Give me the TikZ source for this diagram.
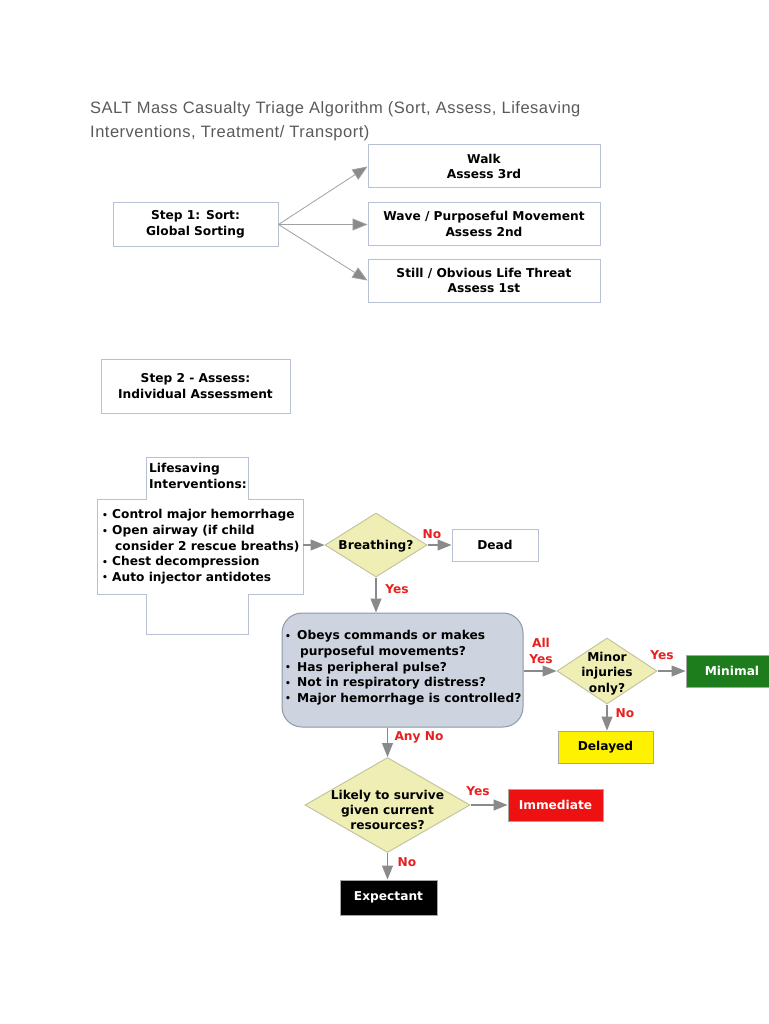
\documentclass[tikz,border=0pt]{standalone}
\usepackage{fontspec}
\setmainfont{DejaVu Sans}
\newfontfamily\titlefont[LetterSpace=3]{Liberation Sans}
\usetikzlibrary{shapes.geometric,arrows.meta}
\definecolor{bordr}{HTML}{B8C0D4}
\definecolor{arrowc}{HTML}{8A8A8A}
\definecolor{dfill}{HTML}{EFEFB5}
\definecolor{dline}{HTML}{C4C4A0}
\definecolor{rfill}{HTML}{CDD3DF}
\definecolor{rline}{HTML}{8F98A8}
\definecolor{lblred}{HTML}{E8201F}
\definecolor{mingreen}{HTML}{1D7D1D}
\definecolor{immred}{HTML}{EE1111}
\definecolor{titlegray}{HTML}{5A5A5A}
\newcommand\bul{\makebox[10pt][l]{\raisebox{0.5pt}{\scalebox{0.75}{•}}}}
\newcommand\bulw{\makebox[12pt][l]{\raisebox{0.5pt}{\scalebox{0.75}{•}}}}
\begin{document}
\begin{tikzpicture}[x=1pt,y=-1pt,
  txt/.style={font=\fontsize{12.2}{15.6}\selectfont\bfseries},
  sbox/.style={txt,draw=bordr,line width=1pt,fill=white,rectangle,inner sep=0,align=center},
  dec/.style={diamond,draw=dline,fill=dfill,line width=1pt,inner sep=0},
  lbl/.style={txt,text=lblred,inner sep=0,align=center},
  arr/.style={draw=arrowc,line width=1.1pt,-{Triangle[length=14pt,width=11pt]}},
  thinarr/.style={draw=arrowc!80,line width=0.8pt,-{Triangle[length=15pt,width=12pt,fill=arrowc]}},
  outc/.style={txt,rectangle,draw=gray!70,line width=1pt,inner sep=0,align=center}
]
\useasboundingbox (0,0) rectangle (768,1024);
\fill[white] (0,0) rectangle (768,1024);

% title
\node[anchor=base west,inner sep=0,text=titlegray,font=\titlefont\fontsize{16.5}{20}\selectfont] (title1) at (90,114) {SALT Mass Casualty Triage Algorithm (Sort, Assess, Lifesaving};
\node[anchor=base west,inner sep=0,text=titlegray,font=\titlefont\fontsize{16.5}{20}\selectfont] (title2) at (90,138) {Interventions, Treatment/ Transport)};

% step 1
\node[sbox,minimum width=165,minimum height=44] (s1) at (195.5,224.5) {Step 1: Sort:\\Global Sorting};
\node[sbox,minimum width=232,minimum height=43] (walk) at (484,166.5) {Walk\\Assess 3rd};
\node[sbox,minimum width=232,minimum height=43] (wave) at (484,224) {Wave / Purposeful Movement\\Assess 2nd};
\node[sbox,minimum width=232,minimum height=43] (still) at (484,280.5) {Still / Obvious Life Threat\\Assess 1st};
\draw[thinarr] (s1.east) -- (walk.west);
\draw[thinarr] (s1.east) -- (s1.east -| wave.west);
\draw[thinarr] (s1.east) -- (still.west);

% step 2
\node[sbox,minimum width=189,minimum height=54] (s2) at (195.5,386) {Step 2 - Assess:\\Individual Assessment};

% lifesaving cross
\draw[draw=bordr,line width=1pt,fill=white] (146,457) -- (248,457) -- (248,499) -- (303,499) -- (303,594) -- (248,594) -- (248,634) -- (146,634) -- (146,594) -- (97,594) -- (97,499) -- (146,499) -- cycle;
\node[inner sep=0,minimum width=206,minimum height=95] (lsi) at (200,546.5) {};
\node[txt,anchor=north west,inner sep=0,align=left] (lsihead) at (149,463) {Lifesaving\\Interventions:};
\node[txt,anchor=north west,inner sep=0,align=left] (lsilist) at (102,509.5) {\bul Control major hemorrhage\\\bul Open airway (if child\\\hspace*{13pt}consider 2 rescue breaths)\\\bul Chest decompression\\\bul Auto injector antidotes};

% breathing
\node[dec,minimum width=102,minimum height=64,label={[txt,yshift=-1pt]center:Breathing?}] (breath) at (376,545) {};
\node[sbox,minimum width=86,minimum height=32] (dead) at (495,545) {Dead};
\draw[arr] (lsi.east |- breath) -- (breath.west);
\draw[arr] (breath.east) -- (dead.west);
\node[lbl] (lno1) at (432,534) {No};

% assessment box
\node[draw=rline,fill=rfill,line width=1pt,rounded corners=20pt,minimum width=241,minimum height=114,inner sep=0] (rb) at (402.5,670) {};
\node[txt,anchor=north west,inner sep=0,align=left] (rbtext) at (285,630.5) {\bulw Obeys commands or makes\\\hspace*{15pt}purposeful movements?\\\bulw Has peripheral pulse?\\\bulw Not in respiratory distress?\\\bulw Major hemorrhage is controlled?};
\draw[arr] (breath.south) -- (breath.south |- rb.north);
\node[lbl] (lyes1) at (397,589) {Yes};

% minor injuries
\node[dec,minimum width=100,minimum height=66,label={[txt,align=center,yshift=-2.5pt,font=\fontsize{12.2}{15.5}\selectfont\bfseries]center:Minor\\injuries\\only?}] (minor) at (607,671) {};
\draw[arr] (rb.east |- minor) -- (minor.west);
\node[lbl] (lall) at (541,651) {All\\Yes};
\node[outc,fill=mingreen,text=white,minimum width=92,minimum height=32] (minimal) at (732,671) {Minimal};
\draw[arr] (minor.east) -- (minimal.west);
\node[lbl] (lyes2) at (662,655) {Yes};
\node[outc,fill=yellow,minimum width=95,minimum height=32] (delayed) at (605.5,747) {Delayed};
\draw[arr] (minor.south) -- (minor.south |- delayed.north);
\node[lbl] (lno2) at (625,713) {No};

% likely to survive
\node[dec,minimum width=165,minimum height=95,label={[txt,align=center,yshift=-5pt,font=\fontsize{12.2}{15.2}\selectfont\bfseries]center:Likely to survive\\given current\\resources?}] (likely) at (387.5,805) {};
\draw[arr] (rb.south -| likely.north) -- (likely.north);
\node[lbl] (lanyno) at (419,737) {Any No};
\node[outc,fill=immred,text=white,minimum width=95,minimum height=32] (immediate) at (555.5,805) {Immediate};
\draw[arr] (likely.east) -- (immediate.west);
\node[lbl] (lyes3) at (478,791) {Yes};
\node[outc,fill=black,text=white,minimum width=97,minimum height=35] (expectant) at (388.5,897.5) {Expectant};
\draw[arr] (likely.south) -- (likely.south |- expectant.north);
\node[lbl] (lno3) at (407,862) {No};
\end{tikzpicture}
\end{document}
